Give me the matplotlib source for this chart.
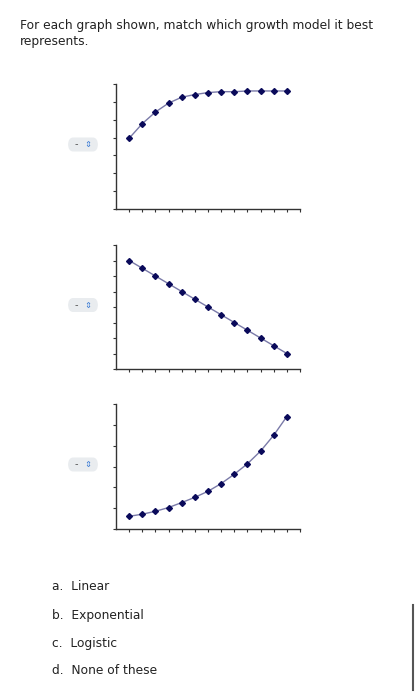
import matplotlib
matplotlib.use("Agg")
import matplotlib.pyplot as plt
from matplotlib.patches import FancyBboxPatch

x = list(range(1, 14))
logistic = [3.96, 4.78, 5.43, 5.93, 6.26, 6.41, 6.52, 6.57, 6.57, 6.61, 6.61, 6.61, 6.61]
linear = [7.0, 6.5, 6.0, 5.5, 5.0, 4.5, 4.0, 3.5, 3.0, 2.5, 2.0, 1.5, 1.0]
expo = [0.61, 0.71, 0.85, 1.03, 1.27, 1.52, 1.81, 2.18, 2.63, 3.13, 3.74, 4.5, 5.4]
series = [(logistic, 7), (linear, 8), (expo, 6)]
options = ["a.  Linear", "b.  Exponential", "c.  Logistic", "d.  None of these"]

W, H = 420, 700
fig = plt.figure(figsize=(4.2, 7), dpi=100)
fig.patch.set_facecolor("white")

def rect(l, t, r, b):
    return [l / W, 1 - b / H, (r - l) / W, (b - t) / H]

tops = [(84, 209), (245, 369), (404, 529)]
for (vals, ymax), (t, b) in zip(series, tops):
    ax = fig.add_axes(rect(116, t, 300, b))
    ax.plot(x, vals, color="#7a7aa8", lw=1.0, marker="D", ms=3.0,
            mfc="#0a0a5a", mec="#0a0a5a")
    ax.set_xlim(0, 14)
    ax.set_ylim(0, ymax)
    ax.set_xticks(range(1, 15))
    ax.set_yticks(range(0, ymax + 1))
    ax.set_xticklabels([])
    ax.set_yticklabels([])
    ax.tick_params(length=2.5, width=0.8, color="#333333")
    for s in ["top", "right"]:
        ax.spines[s].set_visible(False)
    for s in ["left", "bottom"]:
        ax.spines[s].set_color("#333333")
        ax.spines[s].set_linewidth(1.0)
    cy = (t + b) / 2 - 2
    fig.patches.append(FancyBboxPatch((68 / W, 1 - (cy + 7) / H), 30 / W, 14 / H,
                                      boxstyle="round,pad=0,rounding_size=0.012",
                                      transform=fig.transFigure, fc="#e9ecef", ec="none"))
    fig.text(76 / W, 1 - cy / H, "-", fontsize=7, color="#555555", ha="center", va="center")
    fig.text(88 / W, 1 - cy / H, "⇕", fontsize=6, color="#3a7bd5", ha="center", va="center")

fig.text(20 / W, 1 - 25 / H, "For each graph shown, match which growth model it best",
         fontsize=8.8, family="DejaVu Sans", va="center", color="#222222")
fig.text(20 / W, 1 - 42 / H, "represents.", fontsize=8.8, family="DejaVu Sans",
         va="center", color="#222222")
for i, o in enumerate(options):
    fig.text(52 / W, 1 - (587 + 28 * i) / H, o, fontsize=8.8, family="DejaVu Sans",
             va="center", color="#222222")
fig.add_artist(plt.Line2D([413 / W, 413 / W], [1 - 605 / H, 1 - 690 / H],
                          transform=fig.transFigure, color="#555555", lw=1.5))
fig.savefig("out.png", dpi=100)
